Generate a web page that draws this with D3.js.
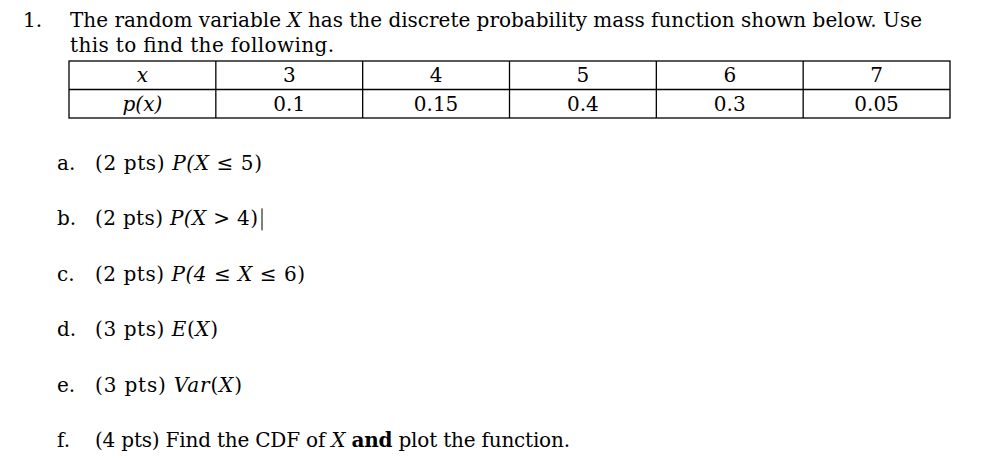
<!DOCTYPE html><html><head><meta charset="utf-8">
<script src="https://cdn.jsdelivr.net/npm/d3@7"></script>
<style>body{margin:0;background:#fff}text{font-family:"DejaVu Serif",serif;fill:#000}</style></head><body>
<script>
const xs=["3","4","5","6","7"];
const ps=["0.1","0.15","0.4","0.3","0.05"];
const items=[
 {l:"a.",m:[["(2 pts) ",0],["P(",1],["X",1],[" ≤ 5)",0]],w:167},
 {l:"b.",m:[["(2 pts) ",0],["P(",1],["X",1],[" > 4)",0]],w:163},
 {l:"c.",m:[["(2 pts) ",0],["P(4 ≤ ",1],["X",1],[" ≤ 6)",0]],w:210},
 {l:"d.",m:[["(3 pts) ",0],["E",1],["(",0],["X",1],[")",0]],w:123},
 {l:"e.",m:[["(3 pts) ",0],["Var",1],["(",0],["X",1],[")",0]],w:147},
 {l:"f.",m:[["(4 pts) Find the CDF of ",0],["X",1],[" ",0],["and",2],[" plot the function.",0]],w:475}
];
const svg=d3.select("body").append("svg").attr("width",1006).attr("height",465);
const fs=20;
svg.append("text").attr("x",23).attr("y",27).attr("font-size",fs).text("1.");
const t1=svg.append("text").attr("x",70).attr("y",27).attr("font-size",fs).attr("textLength",852).attr("lengthAdjust","spacing");
t1.append("tspan").text("The random variable ");
t1.append("tspan").attr("font-style","italic").text("X");
t1.append("tspan").text(" has the discrete probability mass function shown below. Use");
svg.append("text").attr("x",70).attr("y",52).attr("font-size",fs).attr("textLength",264).attr("lengthAdjust","spacing").text("this to find the following.");
const cols=["h",...xs];
const x=d3.scaleBand().domain(cols.map((d,i)=>i)).range([69,950]);
const y=d3.scaleBand().domain([0,1]).range([61,118]);
const g=svg.append("g");
g.append("rect").attr("x",69).attr("y",61).attr("width",881).attr("height",57).attr("fill","none").attr("stroke","#000").attr("stroke-width",1.3);
g.append("line").attr("x1",69).attr("x2",950).attr("y1",y(1)).attr("y2",y(1)).attr("stroke","#000").attr("stroke-width",1.3);
d3.range(1,6).forEach(i=>g.append("line").attr("x1",x(i)).attr("x2",x(i)).attr("y1",61).attr("y2",118).attr("stroke","#000").attr("stroke-width",1.3));
const rows=[["x",...xs],["p(x)",...ps]];
rows.forEach((r,ri)=>r.forEach((v,ci)=>{
 g.append("text").attr("x",x(ci)+x.bandwidth()/2).attr("y",y(ri)+y.bandwidth()/2+7).attr("text-anchor","middle")
 .attr("font-size",fs).attr("font-style",ci===0?"italic":null).text(v);
}));
const iy=d3.scalePoint().domain(items.map((d,i)=>i)).range([170,447]);
items.forEach((it,i)=>{
 svg.append("text").attr("x",57).attr("y",iy(i)).attr("font-size",fs).text(it.l);
 const t=svg.append("text").attr("x",95).attr("y",iy(i)).attr("font-size",fs).attr("textLength",it.w).attr("lengthAdjust","spacing");
 it.m.forEach(([s,st])=>{const sp=t.append("tspan").text(s);
  if(st===1)sp.attr("font-style","italic"); if(st===2)sp.attr("font-weight","bold");});
});
svg.append("line").attr("x1",262).attr("x2",262).attr("y1",iy(1)-17).attr("y2",iy(1)+5).attr("stroke","#000").attr("stroke-width",1);
</script></body></html>
